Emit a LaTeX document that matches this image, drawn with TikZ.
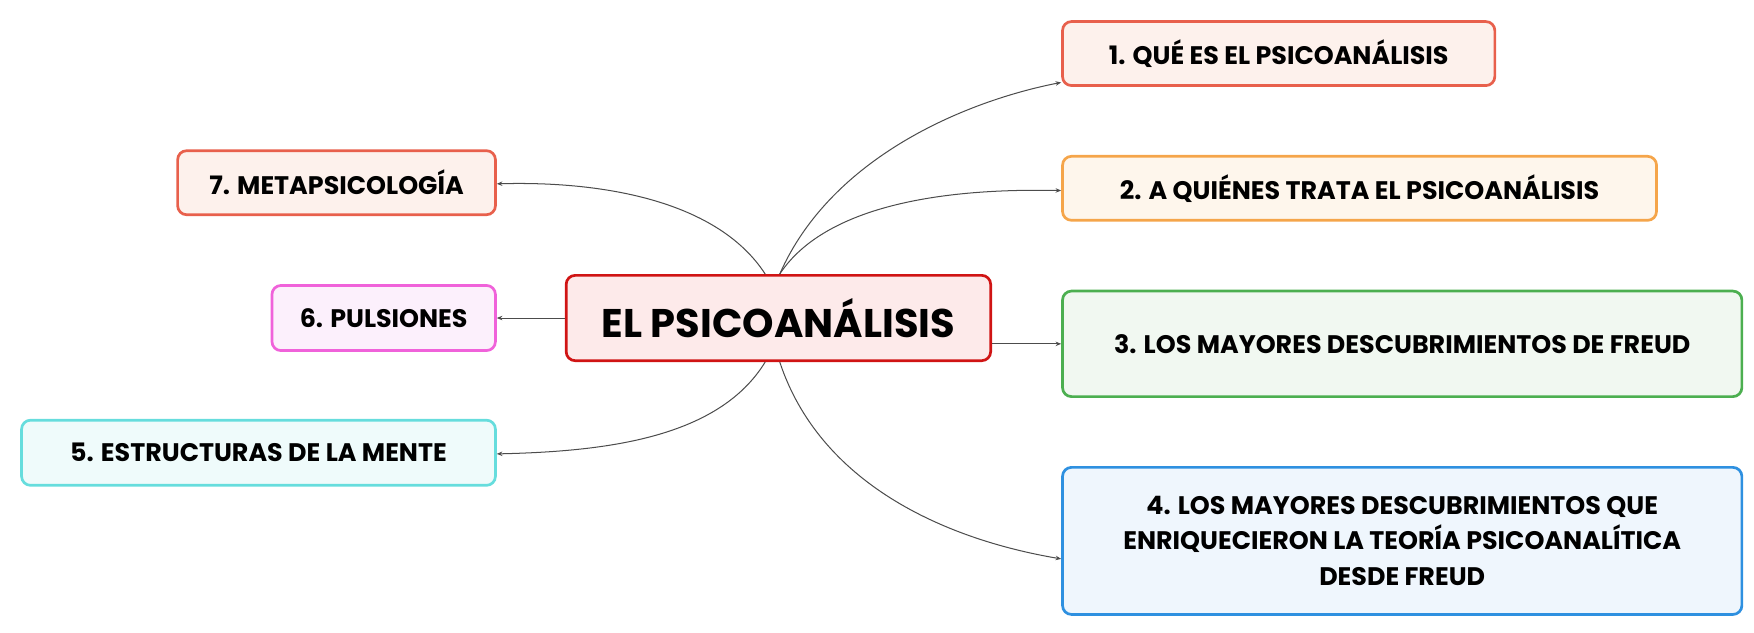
\documentclass[tikz,border=0pt]{standalone}
\usepackage{fontspec}
\setmainfont{Poppins}
\usetikzlibrary{positioning,arrows.meta}
\definecolor{redB}{HTML}{E8604C}\definecolor{redF}{HTML}{FDF1EC}
\definecolor{oraB}{HTML}{F5A54A}\definecolor{oraF}{HTML}{FEF6EC}
\definecolor{greB}{HTML}{4CAF50}\definecolor{greF}{HTML}{F1F8F1}
\definecolor{bluB}{HTML}{2E90E0}\definecolor{bluF}{HTML}{EFF6FD}
\definecolor{pinB}{HTML}{F062DA}\definecolor{pinF}{HTML}{FCF0FC}
\definecolor{cyaB}{HTML}{66DDDD}\definecolor{cyaF}{HTML}{EFFBFB}
\definecolor{cenB}{HTML}{D01414}\definecolor{cenF}{HTML}{FDEAEA}
\tikzset{
  topic/.style 2 args={rectangle,rounded corners=4pt,line width=1.2pt,draw=#1,fill=#2,
    anchor=north west,inner sep=0,align=center,font=\bfseries\fontsize{11.3}{15}\selectfont},
  link/.style={draw=black!70,line width=0.45pt,-{Stealth[length=2.5pt,width=2pt]}}
}
\begin{document}
\begin{tikzpicture}[x=0.5pt,y=0.5pt]
\useasboundingbox (0,0) rectangle (1562,-563);
\node[topic={cenB}{cenF},minimum width=189pt,minimum height=38pt,font=\bfseries\fontsize{17.8}{20}\selectfont] (core) at (503,-244) {EL PSICOANÁLISIS};
\node[topic={redB}{redF},minimum width=192.5pt,minimum height=28.5pt] (t1) at (945,-18) {1. QUÉ ES EL PSICOANÁLISIS};
\node[topic={oraB}{oraF},minimum width=264.5pt,minimum height=28.5pt] (t2) at (945,-138) {2. A QUIÉNES TRATA EL PSICOANÁLISIS};
\node[topic={greB}{greF},minimum width=302.5pt,minimum height=47pt] (t3) at (945,-258) {3. LOS MAYORES DESCUBRIMIENTOS DE FREUD};
\node[topic={bluB}{bluF},minimum width=302.5pt,minimum height=65.5pt,font=\bfseries\fontsize{11.3}{16}\selectfont] (t4) at (945,-415) {4. LOS MAYORES DESCUBRIMIENTOS QUE\\ENRIQUECIERON LA TEORÍA PSICOANALÍTICA\\DESDE FREUD};
\node[topic={cyaB}{cyaF},minimum width=211pt,minimum height=29pt] (t5) at (18,-373) {5. ESTRUCTURAS DE LA MENTE};
\node[topic={pinB}{pinF},minimum width=99.5pt,minimum height=29pt] (t6) at (241,-253) {6. PULSIONES};
\node[topic={redB}{redF},minimum width=141.5pt,minimum height=28.5pt] (t7) at (157,-133) {7. METAPSICOLOGÍA};
% branches
\draw[link] ([xshift=-94.5pt]core.north east) .. controls (740,-140) and (860,-90) .. ([yshift=2pt]t1.south west);
\draw[link] ([xshift=-94.5pt]core.north east) .. controls (730,-190) and (820,-167) .. ([yshift=-1pt]t2.west);
\draw[link] (core.east |- t3.west) -- (t3.west);
\draw[link] ([xshift=-94.5pt]core.south east) .. controls (730,-430) and (840,-480) .. ([yshift=-8pt]t4.west);
\draw[link] ([xshift=-101pt]core.north east) .. controls (640,-180) and (540,-161) .. ([yshift=-0.5pt]t7.east);
\draw[link] (core.west) -- (t6.east);
\draw[link] ([xshift=-101pt]core.south east) .. controls (640,-390) and (540,-402) .. ([yshift=-0.5pt]t5.east);
\end{tikzpicture}
\end{document}
